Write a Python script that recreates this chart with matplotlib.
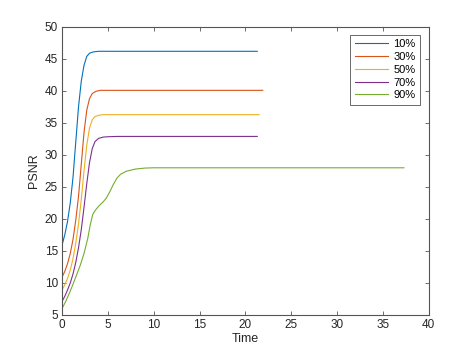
import matplotlib
matplotlib.use("Agg")
import matplotlib.pyplot as plt

plt.rcParams['font.family'] = ['Liberation Sans', 'DejaVu Sans']

labels = ['10%', '30%', '50%', '70%', '90%']
colors = ['#0072BD', '#D95319', '#EDB120', '#7E2F8E', '#77AC30']

t10 = [0, 0.3, 0.6, 0.9, 1.2, 1.5, 1.8, 2.1, 2.4, 2.7, 3.0, 3.4, 4, 5, 7, 10, 21.3]
v10 = [15.9, 17.5, 19.6, 22.5, 26.5, 32, 37.5, 41.5, 44, 45.4, 45.9, 46.1, 46.2, 46.2, 46.2, 46.2, 46.2]

t30 = [0, 0.3, 0.6, 0.9, 1.2, 1.5, 1.8, 2.1, 2.4, 2.7, 3.0, 3.3, 3.7, 4.2, 5, 7, 10, 21.9]
v30 = [10.9, 11.8, 13.0, 14.6, 16.8, 19.8, 23.5, 28.5, 33.5, 37, 38.8, 39.6, 39.95, 40.1, 40.1, 40.1, 40.1, 40.1]

t50 = [0, 0.3, 0.6, 0.9, 1.2, 1.5, 1.8, 2.1, 2.4, 2.7, 3.0, 3.3, 3.6, 4.0, 4.5, 5.5, 7, 10, 21.5]
v50 = [8.9, 9.7, 10.7, 12.0, 13.8, 16.2, 19.2, 23, 27.5, 31.5, 34.2, 35.5, 36.0, 36.2, 36.3, 36.3, 36.3, 36.3, 36.3]

t70 = [0, 0.3, 0.6, 0.9, 1.2, 1.5, 1.8, 2.1, 2.4, 2.7, 3.0, 3.3, 3.6, 4.0, 4.5, 5, 6, 8, 10, 21.3]
v70 = [7.1, 7.9, 8.9, 10.0, 11.4, 13.2, 15.5, 18.3, 21.8, 25.5, 28.8, 31.0, 32.1, 32.6, 32.8, 32.85, 32.9, 32.9, 32.9, 32.9]

t90 = [0, 0.4, 0.8, 1.2, 1.6, 2.0, 2.4, 2.8, 3.1, 3.35, 3.6, 4.0, 4.5, 4.8, 5.2, 5.6, 6.0, 6.4, 7.0, 8, 9, 10, 37.3]
v90 = [6.0, 7.1, 8.4, 9.8, 11.3, 12.8, 14.6, 16.9, 19.2, 20.7, 21.3, 22.0, 22.7, 23.2, 24.2, 25.4, 26.4, 27.0, 27.45, 27.8, 27.95, 28.0, 28.0]

series_t = [t10, t30, t50, t70, t90]
series_v = [v10, v30, v50, v70, v90]

xticks = [0, 5, 10, 15, 20, 25, 30, 35, 40]
yticks = [5, 10, 15, 20, 25, 30, 35, 40, 45, 50]

fig = plt.figure(figsize=(4.74, 3.55), dpi=100)
ax = fig.add_axes([0.1308, 0.1127, 0.7736, 0.8113])

for t, v, c, l in zip(series_t, series_v, colors, labels):
    ax.plot(t, v, color=c, lw=0.8, label=l)

ax.set_xlim(0, 40)
ax.set_ylim(5, 50)
ax.set_xticks(xticks)
ax.set_yticks(yticks)
axcol = '#555555'
for s in ax.spines.values():
    s.set_color(axcol)
    s.set_linewidth(0.8)
ax.tick_params(direction='in', length=3, width=0.6, color=axcol, labelsize=8.5,
               labelcolor='#262626', top=True, right=True, pad=3)
ax.set_xlabel('Time', fontsize=9, color='#262626', labelpad=1)
ax.set_ylabel('PSNR', fontsize=9, color='#262626', labelpad=3)

leg = ax.legend(loc='upper right', bbox_to_anchor=(0.977, 0.973), fontsize=8,
                frameon=True, fancybox=False, handlelength=3.0, labelspacing=0.25,
                borderpad=0.4, handletextpad=0.5, borderaxespad=0)
leg.get_frame().set_edgecolor('#262626')
leg.get_frame().set_linewidth(0.6)
for line in leg.get_lines():
    line.set_linewidth(0.8)

fig.savefig('out.png', dpi=100)
